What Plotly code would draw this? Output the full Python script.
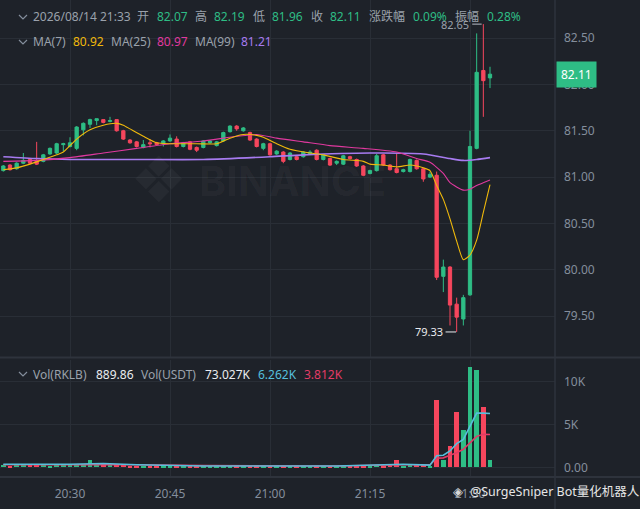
import pandas as pd
import plotly.graph_objects as go

# ---------------- data ----------------
times = pd.date_range("2026-08-14 20:20", "2026-08-14 21:33", freq="1min")

opens = [81.07, 81.13, 81.09, 81.15, 81.19, 81.18, 81.17, 81.25, 81.26, 81.35,
         81.33, 81.31, 81.51, 81.57, 81.61, 81.62, 81.60, 81.62, 81.50, 81.40,
         81.38, 81.32, 81.37, 81.37, 81.36, 81.39, 81.41, 81.33, 81.38, 81.32,
         81.32, 81.37, 81.34, 81.39, 81.49, 81.55, 81.50, 81.48, 81.41, 81.31,
         81.36, 81.25, 81.27, 81.19, 81.22, 81.22, 81.25, 81.29, 81.19, 81.20,
         81.15, 81.14, 81.22, 81.19, 81.12, 81.04, 81.07, 81.24, 81.13, 81.09,
         81.06, 81.06, 81.18, 81.09, 81.00, 81.02, 79.93, 80.03, 79.63, 79.47,
         79.73, 81.31, 82.15, 82.07]
highs = [81.13, 81.14, 81.16, 81.26, 81.20, 81.38, 81.25, 81.32, 81.37, 81.37,
         81.43, 81.55, 81.59, 81.63, 81.63, 81.62, 81.65, 81.62, 81.51, 81.41,
         81.39, 81.40, 81.41, 81.38, 81.40, 81.46, 81.44, 81.38, 81.39, 81.33,
         81.40, 81.40, 81.39, 81.49, 81.56, 81.56, 81.54, 81.49, 81.42, 81.37,
         81.37, 81.29, 81.28, 81.27, 81.23, 81.28, 81.29, 81.30, 81.25, 81.21,
         81.18, 81.24, 81.23, 81.20, 81.13, 81.08, 81.25, 81.25, 81.14, 81.26,
         81.09, 81.20, 81.19, 81.10, 81.06, 81.06, 80.11, 80.04, 79.70, 79.73,
         81.50, 82.55, 82.65, 82.19]
lows = [81.06, 81.07, 81.08, 81.14, 81.14, 81.13, 81.16, 81.24, 81.25, 81.28,
        81.32, 81.29, 81.45, 81.53, 81.56, 81.58, 81.59, 81.49, 81.40, 81.36,
        81.32, 81.31, 81.32, 81.34, 81.33, 81.38, 81.32, 81.32, 81.29, 81.27,
        81.31, 81.36, 81.33, 81.38, 81.48, 81.50, 81.49, 81.39, 81.32, 81.29,
        81.23, 81.24, 81.15, 81.18, 81.18, 81.21, 81.24, 81.18, 81.18, 81.12,
        81.13, 81.13, 81.19, 81.11, 81.01, 81.03, 81.06, 81.12, 81.07, 81.04,
        81.05, 81.05, 81.08, 80.95, 80.99, 79.89, 79.76, 79.40, 79.33, 79.40,
        79.72, 81.30, 81.65, 81.96]
closes = [81.12, 81.08, 81.15, 81.18, 81.15, 81.14, 81.24, 81.31, 81.36, 81.36,
          81.37, 81.54, 81.58, 81.62, 81.63, 81.59, 81.61, 81.50, 81.41, 81.37,
          81.33, 81.35, 81.36, 81.35, 81.39, 81.42, 81.33, 81.37, 81.30, 81.29,
          81.39, 81.39, 81.38, 81.48, 81.55, 81.52, 81.53, 81.40, 81.33, 81.36,
          81.24, 81.28, 81.17, 81.26, 81.19, 81.27, 81.27, 81.19, 81.24, 81.13,
          81.17, 81.23, 81.20, 81.12, 81.02, 81.07, 81.23, 81.13, 81.08, 81.05,
          81.08, 81.19, 81.09, 80.98, 81.03, 79.92, 80.03, 79.62, 79.49, 79.70,
          81.33, 82.13, 82.04, 82.11]
volumes = [250, 200, 300, 350, 300, 250, 300, 200, 250, 300,
           350, 400, 300, 900, 300, 300, 250, 300, 250, 200,
           150, 200, 150, 200, 150, 100, 150, 100, 150, 100,
           150, 100, 100, 150, 200, 100, 100, 150, 150, 100,
           100, 100, 150, 100, 100, 200, 100, 150, 100, 100,
           100, 200, 100, 150, 200, 100, 300, 200, 250, 900,
           150, 300, 250, 300, 200, 7800, 900, 2500, 6400, 4300,
           11700, 11300, 7000, 889.86]

ma7_t = ["20:20", "20:22", "20:24", "20:26", "20:28", "20:29", "20:31", "20:33", "20:35",
         "20:37", "20:38", "20:39", "20:41", "20:43", "20:45", "20:49", "20:52", "20:54",
         "20:56", "20:58", "20:59", "21:01", "21:03", "21:06", "21:08", "21:11", "21:14",
         "21:15", "21:17", "21:19", "21:21", "21:22", "21:23", "21:24", "21:25", "21:26",
         "21:27", "21:28", "21:29", "21:30", "21:31", "21:32", "21:33"]
ma7_v = [81.08, 81.10, 81.14, 81.19, 81.24, 81.27, 81.41, 81.51, 81.56,
         81.58, 81.56, 81.52, 81.44, 81.37, 81.36, 81.36, 81.36, 81.42,
         81.46, 81.45, 81.43, 81.36, 81.30, 81.26, 81.24, 81.19, 81.17,
         81.14, 81.13, 81.11, 81.13, 81.12, 81.10, 81.07, 80.91, 80.76,
         80.55, 80.31, 80.11, 80.16, 80.32, 80.62, 80.92]
ma25_t = ["20:20", "20:25", "20:30", "20:35", "20:40", "20:45", "20:50", "20:55", "20:58",
          "21:01", "21:05", "21:09", "21:14", "21:19", "21:22", "21:24", "21:26", "21:27",
          "21:29", "21:30", "21:31", "21:33"]
ma25_v = [81.17, 81.18, 81.21, 81.26, 81.31, 81.36, 81.39, 81.44, 81.46,
          81.42, 81.38, 81.34, 81.31, 81.27, 81.20, 81.16, 81.04, 80.94,
          80.86, 80.87, 80.91, 80.97]
ma99_t = ["20:20", "20:25", "20:30", "20:40", "20:50", "21:00", "21:05", "21:15", "21:23",
          "21:27", "21:29", "21:31", "21:33"]
ma99_v = [81.22, 81.20, 81.19, 81.19, 81.19, 81.22, 81.24, 81.26, 81.25,
          81.20, 81.18, 81.19, 81.21]

vma5_t = ["20:20", "20:30", "20:35", "20:40", "20:50", "21:00", "21:10", "21:20", "21:24",
          "21:25", "21:26", "21:27", "21:28", "21:29", "21:30", "21:31", "21:32", "21:33"]
vma5_v = [350, 350, 450, 300, 150, 120, 150, 350, 250,
          1350, 1400, 1900, 2750, 3250, 4700, 6300, 6300, 6262]
vma10_t = ["20:20", "20:30", "20:40", "20:50", "21:00", "21:10", "21:20", "21:24",
           "21:25", "21:26", "21:27", "21:28", "21:29", "21:30", "21:31", "21:32", "21:33"]
vma10_v = [300, 300, 300, 200, 150, 150, 300, 300,
           1050, 1100, 1400, 1700, 2100, 2800, 3600, 3850, 3812]

price_ticks = [79.5, 80.0, 80.5, 81.0, 81.5, 82.0, 82.5]
vol_ticks = [0, 5000, 10000]
vol_tick_text = ["0.00", "5K", "10K"]

# ---------------- style ----------------
BG = "#1e2229"
GRID = "#292e36"
SEP = "#2e333c"
TXT = "#848e9c"
LBL = "#9aa1ab"
G = "#2ebd85"
R = "#f6465d"
C_MA7 = "#f0b90b"
C_MA25 = "#e0399f"
C_MA99 = "#a77bf0"
C_V5 = "#56bfdc"
C_V10 = "#e23b66"
FONT = "Noto Sans, Noto Sans CJK SC, sans-serif"

W, H = 640, 509
ML, MR, MT, MB = 0, 85, 0, 32
PW, PH = W - ML - MR, H - MT - MB


def px(x):
    return (x - ML) / PW


def py(y):
    return (H - MB - y) / PH


def tfull(hm):
    return "2026-08-14 " + hm


fig = go.Figure()

fig.add_trace(go.Candlestick(
    x=times, open=opens, high=highs, low=lows, close=closes,
    increasing=dict(line=dict(color=G, width=1), fillcolor=G),
    decreasing=dict(line=dict(color=R, width=1), fillcolor=R),
    whiskerwidth=0, xaxis="x", yaxis="y", showlegend=False, hoverinfo="skip"))

for tt, vv, col, wd in [(ma99_t, ma99_v, C_MA99, 1.6), (ma25_t, ma25_v, C_MA25, 1.1),
                        (ma7_t, ma7_v, C_MA7, 1.1)]:
    fig.add_trace(go.Scatter(x=[tfull(t) for t in tt], y=vv, mode="lines",
                             line=dict(color=col, width=wd, shape="spline", smoothing=0.6),
                             xaxis="x", yaxis="y", showlegend=False, hoverinfo="skip"))

vcolors = [G if c >= o else R for o, c in zip(opens, closes)]
fig.add_trace(go.Bar(x=times, y=volumes, marker=dict(color=vcolors, line=dict(width=0)),
                     width=42000, xaxis="x2", yaxis="y2", showlegend=False, hoverinfo="skip"))
for tt, vv, col in [(vma10_t, vma10_v, C_V10), (vma5_t, vma5_v, C_V5)]:
    fig.add_trace(go.Scatter(x=[tfull(t) for t in tt], y=vv, mode="lines",
                             line=dict(color=col, width=1.6),
                             xaxis="x2", yaxis="y2", showlegend=False, hoverinfo="skip"))

xr = ["2026-08-14 20:19:30", "2026-08-14 21:42:45"]
top_dom = [py(357), 1]
bot_dom = [0, py(360)]

fig.update_layout(
    width=W, height=H, margin=dict(l=ML, r=MR, t=MT, b=MB),
    paper_bgcolor=BG, plot_bgcolor=BG,
    font=dict(family=FONT, color=TXT, size=12),
    showlegend=False, bargap=0,
    xaxis=dict(domain=[0, 1], anchor="y", range=xr, type="date", showticklabels=False,
               showgrid=True, gridcolor=GRID, gridwidth=1, tick0="2026-08-14 20:00",
               dtick=900000, zeroline=False, showline=False,
               rangeslider=dict(visible=False)),
    yaxis=dict(domain=top_dom, anchor="x", side="right", range=[79.06, 82.91],
               tickvals=price_ticks, tickformat=".2f", showgrid=True, gridcolor=GRID,
               zeroline=False, showline=False, ticks="", ticklabelstandoff=8,
               tickfont=dict(size=12, color=TXT)),
    xaxis2=dict(domain=[0, 1], anchor="y2", range=xr, type="date", matches="x",
                showgrid=True, gridcolor=GRID, tick0="2026-08-14 20:00", dtick=900000,
                tickformat="%H:%M", zeroline=False, showline=False, ticks="",
                ticklabelstandoff=8, tickfont=dict(size=12, color=TXT)),
    yaxis2=dict(domain=bot_dom, anchor="x2", side="right", range=[-1128, 12480],
                tickvals=vol_ticks, ticktext=vol_tick_text, showgrid=True, gridcolor=GRID,
                zeroline=False, showline=False, ticks="", ticklabelstandoff=8,
                tickfont=dict(size=12, color=TXT)),
)

shapes = []
# pane separators
for yy in (357.5, 477):
    shapes.append(dict(type="line", xref="paper", yref="paper", x0=px(0), x1=px(W),
                       y0=py(yy), y1=py(yy), line=dict(color=SEP, width=2)))
shapes.append(dict(type="line", xref="paper", yref="paper", x0=1, x1=1,
                   y0=py(H), y1=py(0), line=dict(color=SEP, width=1.5)))
# chevrons
for cy in (17, 42, 374):
    shapes.append(dict(type="path", xref="paper", yref="paper",
                       path=f"M {px(19)} {py(cy-2)} L {px(23)} {py(cy+2)} L {px(27)} {py(cy-2)}",
                       line=dict(color=TXT, width=1.2)))

# max / min markers derived from data
imax = max(range(len(highs)), key=lambda i: highs[i])
imin = min(range(len(lows)), key=lambda i: lows[i])
tmax, tmin = times[imax], times[imin]
shapes.append(dict(type="line", xref="x", yref="y", x0=tmax - pd.Timedelta(seconds=100),
                   x1=tmax - pd.Timedelta(seconds=15), y0=highs[imax], y1=highs[imax],
                   line=dict(color="#b7bdc6", width=1)))
shapes.append(dict(type="line", xref="x", yref="y", x0=tmin - pd.Timedelta(seconds=100),
                   x1=tmin - pd.Timedelta(seconds=5), y0=lows[imin], y1=lows[imin],
                   line=dict(color="#eaecef", width=1)))

annotations = []


def txt(x, y, s, color, size=12, anchor="left", family=FONT):
    annotations.append(dict(xref="paper", yref="paper", x=px(x), y=py(y), text=s,
                            showarrow=False, xanchor=anchor, yanchor="middle",
                            font=dict(family=family, size=size, color=color)))


# watermark
txt(158, 180, "❖", "rgba(255,255,255,0.04)", size=64, anchor="center",
    family="DejaVu Sans")
txt(197, 181, "<b>BINANCE</b>", "rgba(255,255,255,0.04)", size=41, family="Inter")

# header row 1
txt(31, 17, "2026/08/14 21:33", LBL)
txt(135, 17, "开", LBL)
txt(155, 17, "82.07", G)
txt(193, 17, "高", LBL)
txt(212, 17, "82.19", G)
txt(251, 17, "低", LBL)
txt(270, 17, "81.96", G)
txt(309, 17, "收", LBL)
txt(328, 17, "82.11", G)
txt(367, 17, "涨跌幅", LBL)
txt(411, 17, "0.09%", G)
txt(453, 17, "振幅", LBL)
txt(485, 17, "0.28%", G)
# header row 2
txt(31, 42, "MA(7)", LBL)
txt(71, 42, "80.92", C_MA7)
txt(109, 42, "MA(25)", LBL)
txt(155, 42, "80.97", C_MA25)
txt(193, 42, "MA(99)", LBL)
txt(239, 42, "81.21", C_MA99)
# volume header
txt(31, 374, "Vol(RKLB)", LBL)
txt(94, 374, "889.86", "#eaecef")
txt(139, 374, "Vol(USDT)", LBL)
txt(203, 374, "73.027K", "#eaecef")
txt(256, 374, "6.262K", C_V5)
txt(302, 374, "3.812K", C_V10)

# max/min labels
annotations.append(dict(xref="x", yref="y", x=tmax - pd.Timedelta(seconds=108), y=highs[imax],
                        text=f"{highs[imax]:.2f}", showarrow=False, xanchor="right",
                        yanchor="middle", font=dict(size=11, color="#9aa1ab")))
annotations.append(dict(xref="x", yref="y", x=tmin - pd.Timedelta(seconds=108), y=lows[imin],
                        text=f"{lows[imin]:.2f}", showarrow=False, xanchor="right",
                        yanchor="middle", font=dict(size=11, color="#eaecef")))

# last price tag
annotations.append(dict(xref="paper", yref="y", x=px(556), y=closes[-1],
                        text=f"{closes[-1]:.2f}", showarrow=False, xanchor="left",
                        yanchor="middle", bgcolor=G, borderpad=4,
                        font=dict(size=12, color="#ffffff")))

# bottom signature
txt(451, 491, "◈", "#d8d8d8", size=13, family="DejaVu Sans")
txt(468, 491, "@SurgeSniper Bot量化机器人", "#e6e6e6", size=12.5)

fig.update_layout(shapes=shapes, annotations=annotations)
fig.write_html("out.html", config={"displayModeBar": False},
               post_script="document.body.style.margin='0';document.body.style.background='" + BG + "';")
